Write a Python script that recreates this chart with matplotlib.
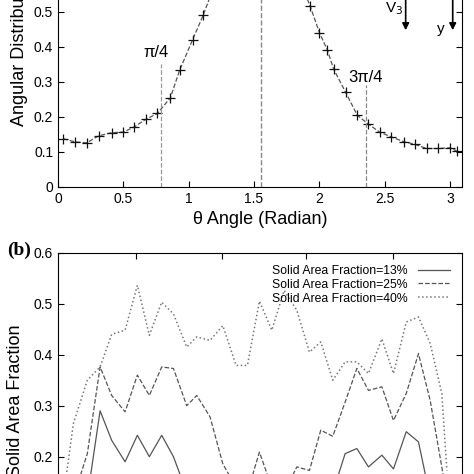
import matplotlib
matplotlib.use("Agg")
import matplotlib.pyplot as plt

plt.rcParams['font.family'] = ['Liberation Sans', 'DejaVu Sans']

# Top panel: angular distribution
theta_a = [0.04, 0.13, 0.22, 0.31, 0.41, 0.50, 0.58, 0.67, 0.76, 0.86, 0.93, 1.03, 1.11,
           1.20, 1.40, 1.57, 1.75, 1.86, 1.93, 2.00, 2.06, 2.11, 2.20, 2.29, 2.37, 2.46,
           2.55, 2.65, 2.73, 2.82, 2.91, 3.00, 3.05]
ang = [0.138, 0.129, 0.126, 0.146, 0.155, 0.157, 0.171, 0.193, 0.210, 0.255, 0.333, 0.421, 0.490,
       0.580, 0.700, 0.750, 0.680, 0.580, 0.516, 0.441, 0.392, 0.336, 0.271, 0.205, 0.181, 0.157,
       0.143, 0.129, 0.122, 0.110, 0.110, 0.112, 0.103]

# Bottom panel: solid area fraction
theta_b = [0.067, 0.118, 0.225, 0.323, 0.412, 0.515, 0.609, 0.701, 0.796, 0.886, 0.988, 1.065,
           1.167, 1.265, 1.367, 1.454, 1.546, 1.641, 1.736, 1.833, 1.930, 2.017, 2.109, 2.204,
           2.294, 2.383, 2.486, 2.575, 2.673, 2.767, 2.857, 2.946, 2.985]
f40 = [0.17, 0.265, 0.35, 0.376, 0.44, 0.448, 0.536, 0.438, 0.503, 0.48, 0.415, 0.435,
       0.428, 0.457, 0.379, 0.379, 0.505, 0.448, 0.526, 0.487, 0.405, 0.425, 0.35, 0.386,
       0.386, 0.363, 0.431, 0.363, 0.464, 0.474, 0.422, 0.324, 0.173]
f25 = [0.10, 0.12, 0.206, 0.376, 0.32, 0.288, 0.36, 0.32, 0.376, 0.373, 0.30, 0.32,
       0.278, 0.186, 0.14, 0.13, 0.209, 0.14, 0.13, 0.18, 0.173, 0.252, 0.24, 0.307,
       0.373, 0.33, 0.337, 0.271, 0.324, 0.402, 0.31, 0.18, 0.12]
f13 = [0.05, 0.07, 0.12, 0.29, 0.232, 0.19, 0.242, 0.20, 0.242, 0.20, 0.13, 0.10,
       0.09, 0.10, 0.09, 0.10, 0.12, 0.10, 0.09, 0.10, 0.11, 0.12, 0.13, 0.206,
       0.216, 0.18, 0.203, 0.176, 0.249, 0.229, 0.12, 0.08, 0.06]

gray = '#555555'
fig = plt.figure(figsize=(4.74, 4.74), dpi=100)

ax1 = fig.add_axes([0.1224, 0.6055, 0.852, 0.5907])
ax1.plot(theta_a, ang, ls='--', color=gray, lw=0.9, marker='+', ms=7, mec='#111111', mew=0.9)
ax1.set_xlim(0, 3.09)
ax1.set_ylim(0, 0.8)
ax1.set_xticks([0, 0.5, 1, 1.5, 2, 2.5, 3])
ax1.set_xticklabels(['0', '0.5', '1', '1.5', '2', '2.5', '3'])
ax1.set_yticks([0, 0.1, 0.2, 0.3, 0.4, 0.5])
ax1.set_yticklabels(['0', '0.1', '0.2', '0.3', '0.4', '0.5'])
ax1.tick_params(direction='in', top=True, right=True, labelsize=10, length=4)
ax1.set_xlabel('θ Angle (Radian)', fontsize=13)
ax1.set_ylabel('Angular Distribution', fontsize=13, labelpad=4)
ax1.plot([0.785, 0.785], [0, 0.35], ls='--', color='#999999', lw=0.9)
ax1.plot([1.555, 1.555], [0, 0.8], ls='--', color='#888888', lw=1.0)
ax1.plot([2.356, 2.356], [0, 0.29], ls='--', color='#888888', lw=0.9)
ax1.text(0.75, 0.37, 'π/4', fontsize=12, ha='center')
ax1.text(2.35, 0.30, '3π/4', fontsize=12, ha='center')
ax1.annotate('', xy=(2.66, 0.44), xytext=(2.66, 0.62),
             arrowprops=dict(arrowstyle='-|>', color='black', lw=1.2))
ax1.annotate('', xy=(3.02, 0.44), xytext=(3.02, 0.62),
             arrowprops=dict(arrowstyle='-|>', color='black', lw=1.2))
ax1.text(2.57, 0.50, 'V$_3$', fontsize=11, ha='center')
ax1.text(2.93, 0.44, 'y', fontsize=11, ha='center')

ax2 = fig.add_axes([0.1224, -0.1787, 0.852, 0.6456])
ax2.plot(theta_b, f13, ls='-', color=gray, lw=0.9, label='Solid Area Fraction=13%')
ax2.plot(theta_b, f25, ls='--', color=gray, lw=0.9, label='Solid Area Fraction=25%')
ax2.plot(theta_b, f40, ls=':', color='#777777', lw=1.1, label='Solid Area Fraction=40%')
ax2.set_xlim(0, 3.1)
ax2.set_ylim(0, 0.6)
ax2.set_yticks([0.2, 0.3, 0.4, 0.5, 0.6])
ax2.set_xticks([0.6, 1.26, 1.9, 2.57])
ax2.tick_params(direction='in', top=True, right=True, labelsize=10, length=4,
                labelbottom=False)
ax2.set_ylabel('Solid Area Fraction', fontsize=13)
ax2.yaxis.set_label_coords(-0.085, 0.515)
leg = ax2.legend(loc='upper right', frameon=False, markerfirst=False, fontsize=8.8,
                 handlelength=2.6, labelspacing=0.15, borderaxespad=0.6)
for t in leg.get_texts():
    t.set_ha('right')
fig.text(0.015, 0.463, '(b)', fontsize=14, fontweight='bold', family='Liberation Serif')

fig.savefig('out.png', dpi=100)
